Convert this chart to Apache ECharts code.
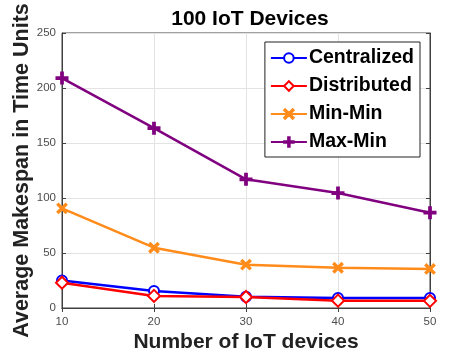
<!DOCTYPE html>
<html><head><meta charset="utf-8">
<script src="https://cdn.jsdelivr.net/npm/echarts@6/dist/echarts.min.js"></script>
<style>html,body{margin:0;padding:0;background:#fff}#c{width:474px;height:355px}</style>
</head><body><div id="c"></div>
<script>
const devices = [10, 20, 30, 40, 50];
const centralized = [25, 15.5, 10.3, 9, 9];
const distributed = [23, 11, 10, 6.7, 6.5];
const minMin = [90.6, 54.8, 39.4, 36.6, 35.5];
const maxMin = [209, 163.5, 117, 104.5, 86.6];
const xTicks = [10, 20, 30, 40, 50];
const yTicks = [0, 50, 100, 150, 200, 250];

const plusPath = 'path://M4.2,0H5.8V4.2H10V5.8H5.8V10H4.2V5.8H0V4.2H4.2Z';
const xPath = 'path://M1.1,0L5,3.9L8.9,0L10,1.1L6.1,5L10,8.9L8.9,10L5,6.1L1.1,10L0,8.9L3.9,5L0,1.1Z';
const F = '"Liberation Sans", Arial, sans-serif';

function pts(arr){ return devices.map((d,i)=>[d, arr[i]]); }
function ser(name, arr, color, symbol, size){
  return {name, type:'line', data:pts(arr), symbol, symbolSize:size,
    lineStyle:{color, width:2.5}, itemStyle:{color, borderColor:color, borderWidth:2},
    showSymbol:true, z: 3};
}
const chart = echarts.init(document.getElementById('c'));
const tickLabel = {color:'#4d4d4d', fontSize:11.5, fontFamily:F};
chart.setOption({
  animation:false,
  title:{text:'100 IoT Devices', left:245, top:4, textAlign:'center',
    textStyle:{fontFamily:F, fontSize:21, fontWeight:'bold', color:'#000'}},
  grid:{left:62, right:44, top:33, bottom:47, show:true, borderColor:'#404040', borderWidth:1,
    containLabel:false, outerBoundsMode:'none'},
  legend:{right:54, top:42, orient:'vertical', itemGap:8, itemWidth:36, itemHeight:12,
    backgroundColor:'#fff', borderColor:'#222', borderWidth:1, padding:[6,6,5,5],
    textStyle:{fontFamily:F, fontSize:19.5, fontWeight:'bold', color:'#000', padding:[0,0,0,-3]},
    data:['Centralized','Distributed','Min-Min','Max-Min']},
  xAxis:[{type:'value', min:10, max:50, interval:10,
    name:'Number of IoT devices', nameLocation:'middle', nameGap:24, nameMoveOverlap:false,
    nameTextStyle:{fontFamily:F, fontSize:21, fontWeight:'bold', color:'#222'},
    axisLine:{lineStyle:{color:'#404040'}}, axisTick:{inside:true, length:4, lineStyle:{color:'#404040'}},
    axisLabel:Object.assign({margin:8}, tickLabel),
    splitLine:{show:true, lineStyle:{color:'#e3e3e3'}}},
    {type:'value', position:'top', min:10, max:50, interval:10,
    axisLine:{lineStyle:{color:'#404040'}}, axisTick:{inside:true, length:4, lineStyle:{color:'#404040'}},
    axisLabel:{show:false}, splitLine:{show:false}}],
  yAxis:[{type:'value', min:0, max:250, interval:50,
    name:'Average Makespan in Time Units', nameLocation:'middle', nameGap:29, nameMoveOverlap:false,
    nameTextStyle:{fontFamily:F, fontSize:21.5, fontWeight:'bold', color:'#222'},
    axisLine:{show:true, lineStyle:{color:'#404040'}}, axisTick:{show:true, inside:true, length:4, lineStyle:{color:'#404040'}},
    axisLabel:Object.assign({margin:6}, tickLabel),
    splitLine:{show:true, lineStyle:{color:'#e3e3e3'}}},
    {type:'value', position:'right', min:0, max:250, interval:50,
    axisLine:{show:true, lineStyle:{color:'#404040'}}, axisTick:{show:true, inside:true, length:4, lineStyle:{color:'#404040'}},
    axisLabel:{show:false}, splitLine:{show:false}}],
  series:[
    ser('Centralized', centralized, '#0000ff', 'emptyCircle', 10),
    ser('Distributed', distributed, '#ff0000', 'emptyDiamond', 12),
    ser('Min-Min', minMin, '#ff8c1a', xPath, 9),
    ser('Max-Min', maxMin, '#800080', plusPath, 11)
  ]
});
</script></body></html>
